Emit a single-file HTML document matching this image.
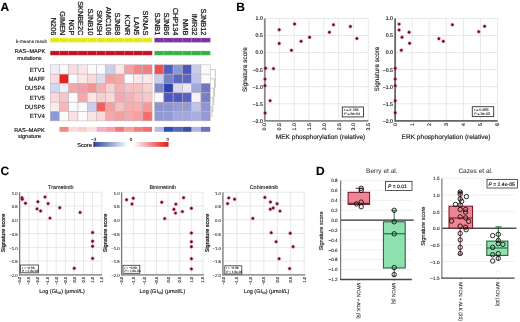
<!DOCTYPE html>
<html><head><meta charset="utf-8"><title>Figure</title>
<style>
html,body{margin:0;padding:0;background:#fff;}
body{width:520px;height:322px;overflow:hidden;}
svg{display:block;font-family:"Liberation Sans", Arial, sans-serif;text-rendering:geometricPrecision;}
text{stroke:#1a1a1a;stroke-width:0.15px;}
</style></head>
<body>
<svg width="520" height="322" viewBox="0 0 520 322">
<rect width="520" height="322" fill="#fff"/>
<text x="0.60" y="11.00" font-size="12" text-anchor="start" fill="#000" font-weight="bold">A</text>
<text x="236.20" y="11.20" font-size="12" text-anchor="start" fill="#000" font-weight="bold">B</text>
<text x="0.40" y="175.40" font-size="12" text-anchor="start" fill="#000" font-weight="bold">C</text>
<text x="316.00" y="175.30" font-size="12" text-anchor="start" fill="#000" font-weight="bold">D</text>
<rect x="50.20" y="64.80" width="9.27" height="9.35" fill="#eeeef8" stroke="#bcb2ba" stroke-width="0.5"/>
<rect x="50.20" y="74.15" width="9.27" height="9.35" fill="#f8dcdc" stroke="#bcb2ba" stroke-width="0.5"/>
<rect x="50.20" y="83.50" width="9.27" height="9.35" fill="#d0d8f0" stroke="#bcb2ba" stroke-width="0.5"/>
<rect x="50.20" y="92.85" width="9.27" height="9.35" fill="#f8d8d8" stroke="#bcb2ba" stroke-width="0.5"/>
<rect x="50.20" y="102.20" width="9.27" height="9.35" fill="#fbeaea" stroke="#bcb2ba" stroke-width="0.5"/>
<rect x="50.20" y="111.55" width="9.27" height="9.35" fill="#8c98d8" stroke="#bcb2ba" stroke-width="0.5"/>
<rect x="59.46" y="64.80" width="9.27" height="9.35" fill="#fafafa" stroke="#bcb2ba" stroke-width="0.5"/>
<rect x="59.46" y="74.15" width="9.27" height="9.35" fill="#e82020" stroke="#bcb2ba" stroke-width="0.5"/>
<rect x="59.46" y="83.50" width="9.27" height="9.35" fill="#f0eef8" stroke="#bcb2ba" stroke-width="0.5"/>
<rect x="59.46" y="92.85" width="9.27" height="9.35" fill="#f4c8c8" stroke="#bcb2ba" stroke-width="0.5"/>
<rect x="59.46" y="102.20" width="9.27" height="9.35" fill="#f4b8b8" stroke="#bcb2ba" stroke-width="0.5"/>
<rect x="59.46" y="111.55" width="9.27" height="9.35" fill="#fafafa" stroke="#bcb2ba" stroke-width="0.5"/>
<rect x="68.73" y="64.80" width="9.27" height="9.35" fill="#f8dede" stroke="#bcb2ba" stroke-width="0.5"/>
<rect x="68.73" y="74.15" width="9.27" height="9.35" fill="#fafafa" stroke="#bcb2ba" stroke-width="0.5"/>
<rect x="68.73" y="83.50" width="9.27" height="9.35" fill="#f0a8b0" stroke="#bcb2ba" stroke-width="0.5"/>
<rect x="68.73" y="92.85" width="9.27" height="9.35" fill="#fafafa" stroke="#bcb2ba" stroke-width="0.5"/>
<rect x="68.73" y="102.20" width="9.27" height="9.35" fill="#fafafa" stroke="#bcb2ba" stroke-width="0.5"/>
<rect x="68.73" y="111.55" width="9.27" height="9.35" fill="#fae0e0" stroke="#bcb2ba" stroke-width="0.5"/>
<rect x="77.99" y="64.80" width="9.27" height="9.35" fill="#fbe5e5" stroke="#bcb2ba" stroke-width="0.5"/>
<rect x="77.99" y="74.15" width="9.27" height="9.35" fill="#fbe8e8" stroke="#bcb2ba" stroke-width="0.5"/>
<rect x="77.99" y="83.50" width="9.27" height="9.35" fill="#f0a0a8" stroke="#bcb2ba" stroke-width="0.5"/>
<rect x="77.99" y="92.85" width="9.27" height="9.35" fill="#f4a8a8" stroke="#bcb2ba" stroke-width="0.5"/>
<rect x="77.99" y="102.20" width="9.27" height="9.35" fill="#fafafa" stroke="#bcb2ba" stroke-width="0.5"/>
<rect x="77.99" y="111.55" width="9.27" height="9.35" fill="#fafafa" stroke="#bcb2ba" stroke-width="0.5"/>
<rect x="87.25" y="64.80" width="9.27" height="9.35" fill="#fafafa" stroke="#bcb2ba" stroke-width="0.5"/>
<rect x="87.25" y="74.15" width="9.27" height="9.35" fill="#f8d8d8" stroke="#bcb2ba" stroke-width="0.5"/>
<rect x="87.25" y="83.50" width="9.27" height="9.35" fill="#f09494" stroke="#bcb2ba" stroke-width="0.5"/>
<rect x="87.25" y="92.85" width="9.27" height="9.35" fill="#fde6e6" stroke="#bcb2ba" stroke-width="0.5"/>
<rect x="87.25" y="102.20" width="9.27" height="9.35" fill="#c8cef0" stroke="#bcb2ba" stroke-width="0.5"/>
<rect x="87.25" y="111.55" width="9.27" height="9.35" fill="#fbe6e6" stroke="#bcb2ba" stroke-width="0.5"/>
<rect x="96.52" y="64.80" width="9.27" height="9.35" fill="#fafafa" stroke="#bcb2ba" stroke-width="0.5"/>
<rect x="96.52" y="74.15" width="9.27" height="9.35" fill="#dcdcf0" stroke="#bcb2ba" stroke-width="0.5"/>
<rect x="96.52" y="83.50" width="9.27" height="9.35" fill="#f4b0b0" stroke="#bcb2ba" stroke-width="0.5"/>
<rect x="96.52" y="92.85" width="9.27" height="9.35" fill="#f8d0d0" stroke="#bcb2ba" stroke-width="0.5"/>
<rect x="96.52" y="102.20" width="9.27" height="9.35" fill="#f06060" stroke="#bcb2ba" stroke-width="0.5"/>
<rect x="96.52" y="111.55" width="9.27" height="9.35" fill="#f8dcdc" stroke="#bcb2ba" stroke-width="0.5"/>
<rect x="105.78" y="64.80" width="9.27" height="9.35" fill="#c8d0ec" stroke="#bcb2ba" stroke-width="0.5"/>
<rect x="105.78" y="74.15" width="9.27" height="9.35" fill="#f4a0a0" stroke="#bcb2ba" stroke-width="0.5"/>
<rect x="105.78" y="83.50" width="9.27" height="9.35" fill="#f8d0d0" stroke="#bcb2ba" stroke-width="0.5"/>
<rect x="105.78" y="92.85" width="9.27" height="9.35" fill="#fad8d8" stroke="#bcb2ba" stroke-width="0.5"/>
<rect x="105.78" y="102.20" width="9.27" height="9.35" fill="#f4a0a0" stroke="#bcb2ba" stroke-width="0.5"/>
<rect x="105.78" y="111.55" width="9.27" height="9.35" fill="#f4a8a8" stroke="#bcb2ba" stroke-width="0.5"/>
<rect x="115.05" y="64.80" width="9.27" height="9.35" fill="#fae8e8" stroke="#bcb2ba" stroke-width="0.5"/>
<rect x="115.05" y="74.15" width="9.27" height="9.35" fill="#f4a8a8" stroke="#bcb2ba" stroke-width="0.5"/>
<rect x="115.05" y="83.50" width="9.27" height="9.35" fill="#f4b0b8" stroke="#bcb2ba" stroke-width="0.5"/>
<rect x="115.05" y="92.85" width="9.27" height="9.35" fill="#f4a8b0" stroke="#bcb2ba" stroke-width="0.5"/>
<rect x="115.05" y="102.20" width="9.27" height="9.35" fill="#f8c0c0" stroke="#bcb2ba" stroke-width="0.5"/>
<rect x="115.05" y="111.55" width="9.27" height="9.35" fill="#f4a0a0" stroke="#bcb2ba" stroke-width="0.5"/>
<rect x="124.31" y="64.80" width="9.27" height="9.35" fill="#f4a0a0" stroke="#bcb2ba" stroke-width="0.5"/>
<rect x="124.31" y="74.15" width="9.27" height="9.35" fill="#fafafa" stroke="#bcb2ba" stroke-width="0.5"/>
<rect x="124.31" y="83.50" width="9.27" height="9.35" fill="#f8c0c4" stroke="#bcb2ba" stroke-width="0.5"/>
<rect x="124.31" y="92.85" width="9.27" height="9.35" fill="#f4b4b4" stroke="#bcb2ba" stroke-width="0.5"/>
<rect x="124.31" y="102.20" width="9.27" height="9.35" fill="#f4b0b0" stroke="#bcb2ba" stroke-width="0.5"/>
<rect x="124.31" y="111.55" width="9.27" height="9.35" fill="#f4a8b0" stroke="#bcb2ba" stroke-width="0.5"/>
<rect x="133.57" y="64.80" width="9.27" height="9.35" fill="#f08888" stroke="#bcb2ba" stroke-width="0.5"/>
<rect x="133.57" y="74.15" width="9.27" height="9.35" fill="#fbeaea" stroke="#bcb2ba" stroke-width="0.5"/>
<rect x="133.57" y="83.50" width="9.27" height="9.35" fill="#f8c0c0" stroke="#bcb2ba" stroke-width="0.5"/>
<rect x="133.57" y="92.85" width="9.27" height="9.35" fill="#f8c0c0" stroke="#bcb2ba" stroke-width="0.5"/>
<rect x="133.57" y="102.20" width="9.27" height="9.35" fill="#f8b0b0" stroke="#bcb2ba" stroke-width="0.5"/>
<rect x="133.57" y="111.55" width="9.27" height="9.35" fill="#f8a0a0" stroke="#bcb2ba" stroke-width="0.5"/>
<rect x="142.84" y="64.80" width="9.27" height="9.35" fill="#f08080" stroke="#bcb2ba" stroke-width="0.5"/>
<rect x="142.84" y="74.15" width="9.27" height="9.35" fill="#fbe8e8" stroke="#bcb2ba" stroke-width="0.5"/>
<rect x="142.84" y="83.50" width="9.27" height="9.35" fill="#fad0d0" stroke="#bcb2ba" stroke-width="0.5"/>
<rect x="142.84" y="92.85" width="9.27" height="9.35" fill="#f8c8c8" stroke="#bcb2ba" stroke-width="0.5"/>
<rect x="142.84" y="102.20" width="9.27" height="9.35" fill="#f49898" stroke="#bcb2ba" stroke-width="0.5"/>
<rect x="142.84" y="111.55" width="9.27" height="9.35" fill="#f47070" stroke="#bcb2ba" stroke-width="0.5"/>
<rect x="154.60" y="64.80" width="9.27" height="9.35" fill="#f05050" stroke="#bcb2ba" stroke-width="0.5"/>
<rect x="154.60" y="74.15" width="9.27" height="9.35" fill="#c8d0ec" stroke="#bcb2ba" stroke-width="0.5"/>
<rect x="154.60" y="83.50" width="9.27" height="9.35" fill="#8088c8" stroke="#bcb2ba" stroke-width="0.5"/>
<rect x="154.60" y="92.85" width="9.27" height="9.35" fill="#fafafa" stroke="#bcb2ba" stroke-width="0.5"/>
<rect x="154.60" y="102.20" width="9.27" height="9.35" fill="#8e96d2" stroke="#bcb2ba" stroke-width="0.5"/>
<rect x="154.60" y="111.55" width="9.27" height="9.35" fill="#939bd4" stroke="#bcb2ba" stroke-width="0.5"/>
<rect x="163.87" y="64.80" width="9.27" height="9.35" fill="#5060c0" stroke="#bcb2ba" stroke-width="0.5"/>
<rect x="163.87" y="74.15" width="9.27" height="9.35" fill="#7880c8" stroke="#bcb2ba" stroke-width="0.5"/>
<rect x="163.87" y="83.50" width="9.27" height="9.35" fill="#2c42b0" stroke="#bcb2ba" stroke-width="0.5"/>
<rect x="163.87" y="92.85" width="9.27" height="9.35" fill="#5058c0" stroke="#bcb2ba" stroke-width="0.5"/>
<rect x="163.87" y="102.20" width="9.27" height="9.35" fill="#8e96d2" stroke="#bcb2ba" stroke-width="0.5"/>
<rect x="163.87" y="111.55" width="9.27" height="9.35" fill="#939bd4" stroke="#bcb2ba" stroke-width="0.5"/>
<rect x="173.14" y="64.80" width="9.27" height="9.35" fill="#8898d0" stroke="#bcb2ba" stroke-width="0.5"/>
<rect x="173.14" y="74.15" width="9.27" height="9.35" fill="#5c68c0" stroke="#bcb2ba" stroke-width="0.5"/>
<rect x="173.14" y="83.50" width="9.27" height="9.35" fill="#dcd8ee" stroke="#bcb2ba" stroke-width="0.5"/>
<rect x="173.14" y="92.85" width="9.27" height="9.35" fill="#5058c0" stroke="#bcb2ba" stroke-width="0.5"/>
<rect x="173.14" y="102.20" width="9.27" height="9.35" fill="#949cd4" stroke="#bcb2ba" stroke-width="0.5"/>
<rect x="173.14" y="111.55" width="9.27" height="9.35" fill="#a0a8dc" stroke="#bcb2ba" stroke-width="0.5"/>
<rect x="182.41" y="64.80" width="9.27" height="9.35" fill="#4c56b8" stroke="#bcb2ba" stroke-width="0.5"/>
<rect x="182.41" y="74.15" width="9.27" height="9.35" fill="#5c68c0" stroke="#bcb2ba" stroke-width="0.5"/>
<rect x="182.41" y="83.50" width="9.27" height="9.35" fill="#e8e8f6" stroke="#bcb2ba" stroke-width="0.5"/>
<rect x="182.41" y="92.85" width="9.27" height="9.35" fill="#5860c0" stroke="#bcb2ba" stroke-width="0.5"/>
<rect x="182.41" y="102.20" width="9.27" height="9.35" fill="#949cd4" stroke="#bcb2ba" stroke-width="0.5"/>
<rect x="182.41" y="111.55" width="9.27" height="9.35" fill="#a0a8dc" stroke="#bcb2ba" stroke-width="0.5"/>
<rect x="191.68" y="64.80" width="9.27" height="9.35" fill="#c8ccec" stroke="#bcb2ba" stroke-width="0.5"/>
<rect x="191.68" y="74.15" width="9.27" height="9.35" fill="#c0c4ea" stroke="#bcb2ba" stroke-width="0.5"/>
<rect x="191.68" y="83.50" width="9.27" height="9.35" fill="#a0a8dc" stroke="#bcb2ba" stroke-width="0.5"/>
<rect x="191.68" y="92.85" width="9.27" height="9.35" fill="#f4f4f8" stroke="#bcb2ba" stroke-width="0.5"/>
<rect x="191.68" y="102.20" width="9.27" height="9.35" fill="#c0c4ea" stroke="#bcb2ba" stroke-width="0.5"/>
<rect x="191.68" y="111.55" width="9.27" height="9.35" fill="#a8b0e0" stroke="#bcb2ba" stroke-width="0.5"/>
<rect x="200.95" y="64.80" width="9.27" height="9.35" fill="#fafafa" stroke="#bcb2ba" stroke-width="0.5"/>
<rect x="200.95" y="74.15" width="9.27" height="9.35" fill="#fafafa" stroke="#bcb2ba" stroke-width="0.5"/>
<rect x="200.95" y="83.50" width="9.27" height="9.35" fill="#7078c4" stroke="#bcb2ba" stroke-width="0.5"/>
<rect x="200.95" y="92.85" width="9.27" height="9.35" fill="#7880c8" stroke="#bcb2ba" stroke-width="0.5"/>
<rect x="200.95" y="102.20" width="9.27" height="9.35" fill="#8e96d2" stroke="#bcb2ba" stroke-width="0.5"/>
<rect x="200.95" y="111.55" width="9.27" height="9.35" fill="#939bd4" stroke="#bcb2ba" stroke-width="0.5"/>
<rect x="50.20" y="38.00" width="9.27" height="4.20" fill="#e8e810" stroke="#f4f4a0" stroke-width="0.35"/>
<rect x="50.20" y="51.00" width="9.27" height="4.10" fill="#c41022" stroke="#e07080" stroke-width="0.35"/>
<rect x="59.46" y="38.00" width="9.27" height="4.20" fill="#e8e810" stroke="#f4f4a0" stroke-width="0.35"/>
<rect x="59.46" y="51.00" width="9.27" height="4.10" fill="#c41022" stroke="#e07080" stroke-width="0.35"/>
<rect x="68.73" y="38.00" width="9.27" height="4.20" fill="#e8e810" stroke="#f4f4a0" stroke-width="0.35"/>
<rect x="68.73" y="51.00" width="9.27" height="4.10" fill="#c41022" stroke="#e07080" stroke-width="0.35"/>
<rect x="77.99" y="38.00" width="9.27" height="4.20" fill="#e8e810" stroke="#f4f4a0" stroke-width="0.35"/>
<rect x="77.99" y="51.00" width="9.27" height="4.10" fill="#c41022" stroke="#e07080" stroke-width="0.35"/>
<rect x="87.25" y="38.00" width="9.27" height="4.20" fill="#e8e810" stroke="#f4f4a0" stroke-width="0.35"/>
<rect x="87.25" y="51.00" width="9.27" height="4.10" fill="#c41022" stroke="#e07080" stroke-width="0.35"/>
<rect x="96.52" y="38.00" width="9.27" height="4.20" fill="#e8e810" stroke="#f4f4a0" stroke-width="0.35"/>
<rect x="96.52" y="51.00" width="9.27" height="4.10" fill="#c41022" stroke="#e07080" stroke-width="0.35"/>
<rect x="105.78" y="38.00" width="9.27" height="4.20" fill="#e8e810" stroke="#f4f4a0" stroke-width="0.35"/>
<rect x="105.78" y="51.00" width="9.27" height="4.10" fill="#c41022" stroke="#e07080" stroke-width="0.35"/>
<rect x="115.05" y="38.00" width="9.27" height="4.20" fill="#e8e810" stroke="#f4f4a0" stroke-width="0.35"/>
<rect x="115.05" y="51.00" width="9.27" height="4.10" fill="#c41022" stroke="#e07080" stroke-width="0.35"/>
<rect x="124.31" y="38.00" width="9.27" height="4.20" fill="#e8e810" stroke="#f4f4a0" stroke-width="0.35"/>
<rect x="124.31" y="51.00" width="9.27" height="4.10" fill="#c41022" stroke="#e07080" stroke-width="0.35"/>
<rect x="133.57" y="38.00" width="9.27" height="4.20" fill="#e8e810" stroke="#f4f4a0" stroke-width="0.35"/>
<rect x="133.57" y="51.00" width="9.27" height="4.10" fill="#c41022" stroke="#e07080" stroke-width="0.35"/>
<rect x="142.84" y="38.00" width="9.27" height="4.20" fill="#e8e810" stroke="#f4f4a0" stroke-width="0.35"/>
<rect x="142.84" y="51.00" width="9.27" height="4.10" fill="#c41022" stroke="#e07080" stroke-width="0.35"/>
<rect x="154.60" y="38.00" width="9.27" height="4.20" fill="#7a35a2" stroke="#a070c0" stroke-width="0.35"/>
<rect x="154.60" y="51.00" width="9.27" height="4.10" fill="#34b244" stroke="#80d090" stroke-width="0.35"/>
<rect x="163.87" y="38.00" width="9.27" height="4.20" fill="#7a35a2" stroke="#a070c0" stroke-width="0.35"/>
<rect x="163.87" y="51.00" width="9.27" height="4.10" fill="#34b244" stroke="#80d090" stroke-width="0.35"/>
<rect x="173.14" y="38.00" width="9.27" height="4.20" fill="#7a35a2" stroke="#a070c0" stroke-width="0.35"/>
<rect x="173.14" y="51.00" width="9.27" height="4.10" fill="#34b244" stroke="#80d090" stroke-width="0.35"/>
<rect x="182.41" y="38.00" width="9.27" height="4.20" fill="#7a35a2" stroke="#a070c0" stroke-width="0.35"/>
<rect x="182.41" y="51.00" width="9.27" height="4.10" fill="#34b244" stroke="#80d090" stroke-width="0.35"/>
<rect x="191.68" y="38.00" width="9.27" height="4.20" fill="#7a35a2" stroke="#a070c0" stroke-width="0.35"/>
<rect x="191.68" y="51.00" width="9.27" height="4.10" fill="#34b244" stroke="#80d090" stroke-width="0.35"/>
<rect x="200.95" y="38.00" width="9.27" height="4.20" fill="#7a35a2" stroke="#a070c0" stroke-width="0.35"/>
<rect x="200.95" y="51.00" width="9.27" height="4.10" fill="#34b244" stroke="#80d090" stroke-width="0.35"/>
<rect x="59.46" y="126.90" width="9.27" height="4.90" fill="#f08888" stroke="none" stroke-width="0"/>
<rect x="68.73" y="126.90" width="9.27" height="4.90" fill="#fadada" stroke="none" stroke-width="0"/>
<rect x="77.99" y="126.90" width="9.27" height="4.90" fill="#f8d0d0" stroke="none" stroke-width="0"/>
<rect x="87.25" y="126.90" width="9.27" height="4.90" fill="#fce0e0" stroke="none" stroke-width="0"/>
<rect x="96.52" y="126.90" width="9.27" height="4.90" fill="#f4b0c0" stroke="none" stroke-width="0"/>
<rect x="105.78" y="126.90" width="9.27" height="4.90" fill="#f4a0a8" stroke="none" stroke-width="0"/>
<rect x="115.05" y="126.90" width="9.27" height="4.90" fill="#f07878" stroke="none" stroke-width="0"/>
<rect x="124.31" y="126.90" width="9.27" height="4.90" fill="#f4a0a0" stroke="none" stroke-width="0"/>
<rect x="133.57" y="126.90" width="9.27" height="4.90" fill="#f08080" stroke="none" stroke-width="0"/>
<rect x="142.84" y="126.90" width="9.27" height="4.90" fill="#f07070" stroke="none" stroke-width="0"/>
<rect x="154.60" y="126.90" width="9.27" height="4.90" fill="#b8b8e0" stroke="none" stroke-width="0"/>
<rect x="163.87" y="126.90" width="9.27" height="4.90" fill="#3050b0" stroke="none" stroke-width="0"/>
<rect x="173.14" y="126.90" width="9.27" height="4.90" fill="#5868b8" stroke="none" stroke-width="0"/>
<rect x="182.41" y="126.90" width="9.27" height="4.90" fill="#3850a8" stroke="none" stroke-width="0"/>
<rect x="191.68" y="126.90" width="9.27" height="4.90" fill="#b0b4e0" stroke="none" stroke-width="0"/>
<rect x="200.95" y="126.90" width="9.27" height="4.90" fill="#7070b8" stroke="none" stroke-width="0"/>
<text x="50.51" y="35.30" font-size="7.3" text-anchor="end" fill="#111" transform="rotate(90 50.51 35.30)" style="stroke-width:0.24px">N206</text>
<text x="59.77" y="35.30" font-size="7.3" text-anchor="end" fill="#111" transform="rotate(90 59.77 35.30)" style="stroke-width:0.24px">GIMEN</text>
<text x="69.03" y="35.30" font-size="7.3" text-anchor="end" fill="#111" transform="rotate(90 69.03 35.30)" style="stroke-width:0.24px">NGP</text>
<text x="78.30" y="35.30" font-size="7.3" text-anchor="end" fill="#111" transform="rotate(90 78.30 35.30)" style="stroke-width:0.24px">SKNBE2C</text>
<text x="87.56" y="35.30" font-size="7.3" text-anchor="end" fill="#111" transform="rotate(90 87.56 35.30)" style="stroke-width:0.24px">SJNB10</text>
<text x="96.83" y="35.30" font-size="7.3" text-anchor="end" fill="#111" transform="rotate(90 96.83 35.30)" style="stroke-width:0.24px">SKNSH</text>
<text x="106.09" y="35.30" font-size="7.3" text-anchor="end" fill="#111" transform="rotate(90 106.09 35.30)" style="stroke-width:0.24px">AMC106</text>
<text x="115.35" y="35.30" font-size="7.3" text-anchor="end" fill="#111" transform="rotate(90 115.35 35.30)" style="stroke-width:0.24px">SJNB8</text>
<text x="124.62" y="35.30" font-size="7.3" text-anchor="end" fill="#111" transform="rotate(90 124.62 35.30)" style="stroke-width:0.24px">KCNR</text>
<text x="133.88" y="35.30" font-size="7.3" text-anchor="end" fill="#111" transform="rotate(90 133.88 35.30)" style="stroke-width:0.24px">LAN5</text>
<text x="143.14" y="35.30" font-size="7.3" text-anchor="end" fill="#111" transform="rotate(90 143.14 35.30)" style="stroke-width:0.24px">SKNAS</text>
<text x="154.91" y="35.30" font-size="7.3" text-anchor="end" fill="#111" transform="rotate(90 154.91 35.30)" style="stroke-width:0.24px">SJNB1</text>
<text x="164.18" y="35.30" font-size="7.3" text-anchor="end" fill="#111" transform="rotate(90 164.18 35.30)" style="stroke-width:0.24px">SJNB6</text>
<text x="173.45" y="35.30" font-size="7.3" text-anchor="end" fill="#111" transform="rotate(90 173.45 35.30)" style="stroke-width:0.24px">CHP134</text>
<text x="182.72" y="35.30" font-size="7.3" text-anchor="end" fill="#111" transform="rotate(90 182.72 35.30)" style="stroke-width:0.24px">NMB</text>
<text x="191.99" y="35.30" font-size="7.3" text-anchor="end" fill="#111" transform="rotate(90 191.99 35.30)" style="stroke-width:0.24px">IMR32</text>
<text x="201.26" y="35.30" font-size="7.3" text-anchor="end" fill="#111" transform="rotate(90 201.26 35.30)" style="stroke-width:0.24px">SJNB12</text>
<text x="44.80" y="71.57" font-size="6.0" text-anchor="end" fill="#111">ETV1</text>
<text x="44.80" y="80.92" font-size="6.0" text-anchor="end" fill="#111">MAFF</text>
<text x="44.80" y="90.27" font-size="6.0" text-anchor="end" fill="#111">DUSP4</text>
<text x="44.80" y="99.62" font-size="6.0" text-anchor="end" fill="#111">ETV5</text>
<text x="44.80" y="108.97" font-size="6.0" text-anchor="end" fill="#111">DUSP6</text>
<text x="44.80" y="118.32" font-size="6.0" text-anchor="end" fill="#111">ETV4</text>
<text x="31.40" y="42.80" font-size="4.7" text-anchor="middle" fill="#111" style="stroke-width:0.08px">k-means result</text>
<text x="30.00" y="53.10" font-size="5.6" text-anchor="middle" fill="#111">RAS–MAPK</text>
<text x="29.50" y="60.00" font-size="5.6" text-anchor="middle" fill="#111">mutations</text>
<text x="29.40" y="131.50" font-size="5.6" text-anchor="middle" fill="#111">RAS–MAPK</text>
<text x="29.40" y="137.60" font-size="5.6" text-anchor="middle" fill="#111">signature</text>
<line x1="210.50" y1="116.22" x2="212.00" y2="116.22" stroke="#a8a8a8" stroke-width="0.6"/>
<line x1="210.50" y1="106.87" x2="212.00" y2="106.87" stroke="#a8a8a8" stroke-width="0.6"/>
<line x1="212.00" y1="106.87" x2="212.00" y2="116.22" stroke="#a8a8a8" stroke-width="0.6"/>
<line x1="210.50" y1="97.52" x2="212.80" y2="97.52" stroke="#a8a8a8" stroke-width="0.6"/>
<line x1="212.00" y1="111.55" x2="212.80" y2="111.55" stroke="#a8a8a8" stroke-width="0.6"/>
<line x1="212.80" y1="97.52" x2="212.80" y2="111.55" stroke="#a8a8a8" stroke-width="0.6"/>
<line x1="210.50" y1="88.17" x2="213.70" y2="88.17" stroke="#a8a8a8" stroke-width="0.6"/>
<line x1="212.80" y1="104.54" x2="213.70" y2="104.54" stroke="#a8a8a8" stroke-width="0.6"/>
<line x1="213.70" y1="88.17" x2="213.70" y2="104.54" stroke="#a8a8a8" stroke-width="0.6"/>
<line x1="210.50" y1="78.82" x2="214.50" y2="78.82" stroke="#a8a8a8" stroke-width="0.6"/>
<line x1="213.70" y1="96.36" x2="214.50" y2="96.36" stroke="#a8a8a8" stroke-width="0.6"/>
<line x1="214.50" y1="78.82" x2="214.50" y2="96.36" stroke="#a8a8a8" stroke-width="0.6"/>
<line x1="210.50" y1="69.47" x2="215.40" y2="69.47" stroke="#a8a8a8" stroke-width="0.6"/>
<line x1="214.50" y1="87.59" x2="215.40" y2="87.59" stroke="#a8a8a8" stroke-width="0.6"/>
<line x1="215.40" y1="69.47" x2="215.40" y2="87.59" stroke="#a8a8a8" stroke-width="0.6"/>
<defs><linearGradient id="sg" x1="0" x2="1" y1="0" y2="0"><stop offset="0" stop-color="#2a4aa0"/><stop offset="0.46" stop-color="#ffffff"/><stop offset="0.53" stop-color="#ffffff"/><stop offset="1" stop-color="#e01818"/></linearGradient></defs>
<rect x="93.50" y="142.00" width="75.00" height="4.80" fill="url(#sg)" stroke="none" stroke-width="0"/>
<line x1="94.00" y1="141.50" x2="94.00" y2="147.00" stroke="#222" stroke-width="0.6"/>
<text x="91.80" y="147.00" font-size="5.6" text-anchor="end" fill="#111">Score</text>
<text x="93.60" y="141.00" font-size="4.6" text-anchor="middle" fill="#111" style="stroke-width:0.08px">−3</text>
<text x="131.00" y="141.00" font-size="4.6" text-anchor="middle" fill="#111" style="stroke-width:0.08px">0</text>
<text x="167.50" y="141.00" font-size="4.6" text-anchor="middle" fill="#111" style="stroke-width:0.08px">3</text>
<line x1="264.50" y1="18.40" x2="264.50" y2="120.85" stroke="#d8d8d8" stroke-width="0.6"/>
<line x1="279.33" y1="18.40" x2="279.33" y2="120.85" stroke="#d8d8d8" stroke-width="0.6"/>
<line x1="294.16" y1="18.40" x2="294.16" y2="120.85" stroke="#d8d8d8" stroke-width="0.6"/>
<line x1="308.99" y1="18.40" x2="308.99" y2="120.85" stroke="#d8d8d8" stroke-width="0.6"/>
<line x1="323.82" y1="18.40" x2="323.82" y2="120.85" stroke="#d8d8d8" stroke-width="0.6"/>
<line x1="338.65" y1="18.40" x2="338.65" y2="120.85" stroke="#d8d8d8" stroke-width="0.6"/>
<line x1="353.48" y1="18.40" x2="353.48" y2="120.85" stroke="#d8d8d8" stroke-width="0.6"/>
<line x1="368.31" y1="18.40" x2="368.31" y2="120.85" stroke="#d8d8d8" stroke-width="0.6"/>
<line x1="264.80" y1="18.40" x2="368.30" y2="18.40" stroke="#d8d8d8" stroke-width="0.6"/>
<line x1="264.80" y1="35.47" x2="368.30" y2="35.47" stroke="#d8d8d8" stroke-width="0.6"/>
<line x1="264.80" y1="52.55" x2="368.30" y2="52.55" stroke="#d8d8d8" stroke-width="0.6"/>
<line x1="264.80" y1="69.62" x2="368.30" y2="69.62" stroke="#d8d8d8" stroke-width="0.6"/>
<line x1="264.80" y1="86.70" x2="368.30" y2="86.70" stroke="#d8d8d8" stroke-width="0.6"/>
<line x1="264.80" y1="103.77" x2="368.30" y2="103.77" stroke="#d8d8d8" stroke-width="0.6"/>
<line x1="264.80" y1="120.85" x2="368.30" y2="120.85" stroke="#d8d8d8" stroke-width="0.6"/>
<line x1="264.80" y1="18.40" x2="264.80" y2="121.45" stroke="#8a8a8a" stroke-width="1.8"/>
<line x1="264.20" y1="120.85" x2="368.30" y2="120.85" stroke="#8a8a8a" stroke-width="1.8"/>
<text x="262.80" y="20.30" font-size="5.2" text-anchor="end" fill="#222">1.0</text>
<text x="262.80" y="37.37" font-size="5.2" text-anchor="end" fill="#222">0.5</text>
<text x="262.80" y="54.45" font-size="5.2" text-anchor="end" fill="#222">0.0</text>
<text x="262.80" y="71.53" font-size="5.2" text-anchor="end" fill="#222">−0.5</text>
<text x="262.80" y="88.60" font-size="5.2" text-anchor="end" fill="#222">−1.0</text>
<text x="262.80" y="105.67" font-size="5.2" text-anchor="end" fill="#222">−1.5</text>
<text x="262.80" y="122.75" font-size="5.2" text-anchor="end" fill="#222">−2.0</text>
<text x="266.37" y="123.15" font-size="5.2" text-anchor="end" fill="#222" transform="rotate(-90 266.37 123.15)" style="stroke-width:0.14px">0.0</text>
<text x="281.20" y="123.15" font-size="5.2" text-anchor="end" fill="#222" transform="rotate(-90 281.20 123.15)" style="stroke-width:0.14px">0.5</text>
<text x="296.03" y="123.15" font-size="5.2" text-anchor="end" fill="#222" transform="rotate(-90 296.03 123.15)" style="stroke-width:0.14px">1.0</text>
<text x="310.86" y="123.15" font-size="5.2" text-anchor="end" fill="#222" transform="rotate(-90 310.86 123.15)" style="stroke-width:0.14px">1.5</text>
<text x="325.69" y="123.15" font-size="5.2" text-anchor="end" fill="#222" transform="rotate(-90 325.69 123.15)" style="stroke-width:0.14px">2.0</text>
<text x="340.52" y="123.15" font-size="5.2" text-anchor="end" fill="#222" transform="rotate(-90 340.52 123.15)" style="stroke-width:0.14px">2.5</text>
<text x="355.35" y="123.15" font-size="5.2" text-anchor="end" fill="#222" transform="rotate(-90 355.35 123.15)" style="stroke-width:0.14px">3.0</text>
<text x="370.18" y="123.15" font-size="5.2" text-anchor="end" fill="#222" transform="rotate(-90 370.18 123.15)" style="stroke-width:0.14px">3.5</text>
<circle cx="279.20" cy="29.80" r="2.5" fill="#e06080" fill-opacity="0.16"/>
<circle cx="279.20" cy="29.80" r="1.2" fill="#480818" stroke="#a41a36" stroke-width="0.6"/>
<circle cx="294.60" cy="24.00" r="2.5" fill="#e06080" fill-opacity="0.16"/>
<circle cx="294.60" cy="24.00" r="1.2" fill="#480818" stroke="#a41a36" stroke-width="0.6"/>
<circle cx="279.20" cy="43.50" r="2.5" fill="#e06080" fill-opacity="0.16"/>
<circle cx="279.20" cy="43.50" r="1.2" fill="#480818" stroke="#a41a36" stroke-width="0.6"/>
<circle cx="291.50" cy="50.30" r="2.5" fill="#e06080" fill-opacity="0.16"/>
<circle cx="291.50" cy="50.30" r="1.2" fill="#480818" stroke="#a41a36" stroke-width="0.6"/>
<circle cx="301.10" cy="41.30" r="2.5" fill="#e06080" fill-opacity="0.16"/>
<circle cx="301.10" cy="41.30" r="1.2" fill="#480818" stroke="#a41a36" stroke-width="0.6"/>
<circle cx="309.60" cy="37.30" r="2.5" fill="#e06080" fill-opacity="0.16"/>
<circle cx="309.60" cy="37.30" r="1.2" fill="#480818" stroke="#a41a36" stroke-width="0.6"/>
<circle cx="329.40" cy="32.20" r="2.5" fill="#e06080" fill-opacity="0.16"/>
<circle cx="329.40" cy="32.20" r="1.2" fill="#480818" stroke="#a41a36" stroke-width="0.6"/>
<circle cx="333.50" cy="24.80" r="2.5" fill="#e06080" fill-opacity="0.16"/>
<circle cx="333.50" cy="24.80" r="1.2" fill="#480818" stroke="#a41a36" stroke-width="0.6"/>
<circle cx="350.40" cy="26.50" r="2.5" fill="#e06080" fill-opacity="0.16"/>
<circle cx="350.40" cy="26.50" r="1.2" fill="#480818" stroke="#a41a36" stroke-width="0.6"/>
<circle cx="356.90" cy="38.50" r="2.5" fill="#e06080" fill-opacity="0.16"/>
<circle cx="356.90" cy="38.50" r="1.2" fill="#480818" stroke="#a41a36" stroke-width="0.6"/>
<circle cx="265.60" cy="68.20" r="2.5" fill="#e06080" fill-opacity="0.16"/>
<circle cx="265.60" cy="68.20" r="1.2" fill="#480818" stroke="#a41a36" stroke-width="0.6"/>
<circle cx="273.50" cy="68.60" r="2.5" fill="#e06080" fill-opacity="0.16"/>
<circle cx="273.50" cy="68.60" r="1.2" fill="#480818" stroke="#a41a36" stroke-width="0.6"/>
<circle cx="265.00" cy="79.10" r="2.5" fill="#e06080" fill-opacity="0.16"/>
<circle cx="265.00" cy="79.10" r="1.2" fill="#480818" stroke="#a41a36" stroke-width="0.6"/>
<circle cx="264.90" cy="85.70" r="2.5" fill="#e06080" fill-opacity="0.16"/>
<circle cx="264.90" cy="85.70" r="1.2" fill="#480818" stroke="#a41a36" stroke-width="0.6"/>
<circle cx="270.10" cy="100.70" r="2.5" fill="#e06080" fill-opacity="0.16"/>
<circle cx="270.10" cy="100.70" r="1.2" fill="#480818" stroke="#a41a36" stroke-width="0.6"/>
<circle cx="265.10" cy="113.00" r="2.5" fill="#e06080" fill-opacity="0.16"/>
<circle cx="265.10" cy="113.00" r="1.2" fill="#480818" stroke="#a41a36" stroke-width="0.6"/>
<rect x="342.30" y="107.00" width="21.20" height="9.90" fill="#fff" stroke="#333" stroke-width="0.9"/>
<text x="343.90" y="111.20" font-size="3.7" text-anchor="start" fill="#111" style="stroke-width:0.08px"><tspan font-style="italic">r</tspan> = 0.766</text>
<text x="343.90" y="115.30" font-size="3.7" text-anchor="start" fill="#111" style="stroke-width:0.08px"><tspan font-style="italic">P</tspan> = 5e-04</text>
<text x="320.50" y="139.40" font-size="6.55" text-anchor="middle" fill="#222">MEK phosphorylation (relative)</text>
<text x="246.60" y="69.50" font-size="6.4" text-anchor="middle" fill="#222" transform="rotate(-90 246.60 69.50)">Signature score</text>
<line x1="395.00" y1="18.40" x2="395.00" y2="120.85" stroke="#d8d8d8" stroke-width="0.6"/>
<line x1="412.10" y1="18.40" x2="412.10" y2="120.85" stroke="#d8d8d8" stroke-width="0.6"/>
<line x1="429.20" y1="18.40" x2="429.20" y2="120.85" stroke="#d8d8d8" stroke-width="0.6"/>
<line x1="446.30" y1="18.40" x2="446.30" y2="120.85" stroke="#d8d8d8" stroke-width="0.6"/>
<line x1="463.40" y1="18.40" x2="463.40" y2="120.85" stroke="#d8d8d8" stroke-width="0.6"/>
<line x1="480.50" y1="18.40" x2="480.50" y2="120.85" stroke="#d8d8d8" stroke-width="0.6"/>
<line x1="497.60" y1="18.40" x2="497.60" y2="120.85" stroke="#d8d8d8" stroke-width="0.6"/>
<line x1="395.15" y1="18.40" x2="497.60" y2="18.40" stroke="#d8d8d8" stroke-width="0.6"/>
<line x1="395.15" y1="35.47" x2="497.60" y2="35.47" stroke="#d8d8d8" stroke-width="0.6"/>
<line x1="395.15" y1="52.55" x2="497.60" y2="52.55" stroke="#d8d8d8" stroke-width="0.6"/>
<line x1="395.15" y1="69.62" x2="497.60" y2="69.62" stroke="#d8d8d8" stroke-width="0.6"/>
<line x1="395.15" y1="86.70" x2="497.60" y2="86.70" stroke="#d8d8d8" stroke-width="0.6"/>
<line x1="395.15" y1="103.77" x2="497.60" y2="103.77" stroke="#d8d8d8" stroke-width="0.6"/>
<line x1="395.15" y1="120.85" x2="497.60" y2="120.85" stroke="#d8d8d8" stroke-width="0.6"/>
<line x1="395.15" y1="18.40" x2="395.15" y2="121.45" stroke="#666" stroke-width="1.8"/>
<line x1="394.55" y1="120.85" x2="497.60" y2="120.85" stroke="#666" stroke-width="1.8"/>
<text x="392.95" y="20.30" font-size="5.2" text-anchor="end" fill="#222">1.0</text>
<text x="392.95" y="37.37" font-size="5.2" text-anchor="end" fill="#222">0.5</text>
<text x="392.95" y="54.45" font-size="5.2" text-anchor="end" fill="#222">0.0</text>
<text x="392.95" y="71.53" font-size="5.2" text-anchor="end" fill="#222">−0.5</text>
<text x="392.95" y="88.60" font-size="5.2" text-anchor="end" fill="#222">−1.0</text>
<text x="392.95" y="105.67" font-size="5.2" text-anchor="end" fill="#222">−1.5</text>
<text x="392.95" y="122.75" font-size="5.2" text-anchor="end" fill="#222">−2.0</text>
<text x="396.87" y="123.15" font-size="5.2" text-anchor="end" fill="#222" transform="rotate(-90 396.87 123.15)" style="stroke-width:0.14px">0</text>
<text x="413.97" y="123.15" font-size="5.2" text-anchor="end" fill="#222" transform="rotate(-90 413.97 123.15)" style="stroke-width:0.14px">1</text>
<text x="431.07" y="123.15" font-size="5.2" text-anchor="end" fill="#222" transform="rotate(-90 431.07 123.15)" style="stroke-width:0.14px">2</text>
<text x="448.17" y="123.15" font-size="5.2" text-anchor="end" fill="#222" transform="rotate(-90 448.17 123.15)" style="stroke-width:0.14px">3</text>
<text x="465.27" y="123.15" font-size="5.2" text-anchor="end" fill="#222" transform="rotate(-90 465.27 123.15)" style="stroke-width:0.14px">4</text>
<text x="482.37" y="123.15" font-size="5.2" text-anchor="end" fill="#222" transform="rotate(-90 482.37 123.15)" style="stroke-width:0.14px">5</text>
<text x="499.47" y="123.15" font-size="5.2" text-anchor="end" fill="#222" transform="rotate(-90 499.47 123.15)" style="stroke-width:0.14px">6</text>
<circle cx="399.10" cy="24.10" r="2.5" fill="#e06080" fill-opacity="0.16"/>
<circle cx="399.10" cy="24.10" r="1.2" fill="#480818" stroke="#a41a36" stroke-width="0.6"/>
<circle cx="399.10" cy="30.00" r="2.5" fill="#e06080" fill-opacity="0.16"/>
<circle cx="399.10" cy="30.00" r="1.2" fill="#480818" stroke="#a41a36" stroke-width="0.6"/>
<circle cx="409.10" cy="32.20" r="2.5" fill="#e06080" fill-opacity="0.16"/>
<circle cx="409.10" cy="32.20" r="1.2" fill="#480818" stroke="#a41a36" stroke-width="0.6"/>
<circle cx="402.00" cy="37.20" r="2.5" fill="#e06080" fill-opacity="0.16"/>
<circle cx="402.00" cy="37.20" r="1.2" fill="#480818" stroke="#a41a36" stroke-width="0.6"/>
<circle cx="409.60" cy="43.30" r="2.5" fill="#e06080" fill-opacity="0.16"/>
<circle cx="409.60" cy="43.30" r="1.2" fill="#480818" stroke="#a41a36" stroke-width="0.6"/>
<circle cx="401.30" cy="50.20" r="2.5" fill="#e06080" fill-opacity="0.16"/>
<circle cx="401.30" cy="50.20" r="1.2" fill="#480818" stroke="#a41a36" stroke-width="0.6"/>
<circle cx="438.90" cy="38.70" r="2.5" fill="#e06080" fill-opacity="0.16"/>
<circle cx="438.90" cy="38.70" r="1.2" fill="#480818" stroke="#a41a36" stroke-width="0.6"/>
<circle cx="443.30" cy="41.30" r="2.5" fill="#e06080" fill-opacity="0.16"/>
<circle cx="443.30" cy="41.30" r="1.2" fill="#480818" stroke="#a41a36" stroke-width="0.6"/>
<circle cx="452.40" cy="24.80" r="2.5" fill="#e06080" fill-opacity="0.16"/>
<circle cx="452.40" cy="24.80" r="1.2" fill="#480818" stroke="#a41a36" stroke-width="0.6"/>
<circle cx="478.70" cy="31.70" r="2.5" fill="#e06080" fill-opacity="0.16"/>
<circle cx="478.70" cy="31.70" r="1.2" fill="#480818" stroke="#a41a36" stroke-width="0.6"/>
<circle cx="484.60" cy="26.30" r="2.5" fill="#e06080" fill-opacity="0.16"/>
<circle cx="484.60" cy="26.30" r="1.2" fill="#480818" stroke="#a41a36" stroke-width="0.6"/>
<circle cx="395.20" cy="68.30" r="2.5" fill="#e06080" fill-opacity="0.16"/>
<circle cx="395.20" cy="68.30" r="1.2" fill="#480818" stroke="#a41a36" stroke-width="0.6"/>
<circle cx="395.20" cy="79.10" r="2.5" fill="#e06080" fill-opacity="0.16"/>
<circle cx="395.20" cy="79.10" r="1.2" fill="#480818" stroke="#a41a36" stroke-width="0.6"/>
<circle cx="395.20" cy="85.70" r="2.5" fill="#e06080" fill-opacity="0.16"/>
<circle cx="395.20" cy="85.70" r="1.2" fill="#480818" stroke="#a41a36" stroke-width="0.6"/>
<circle cx="395.20" cy="100.70" r="2.5" fill="#e06080" fill-opacity="0.16"/>
<circle cx="395.20" cy="100.70" r="1.2" fill="#480818" stroke="#a41a36" stroke-width="0.6"/>
<circle cx="395.20" cy="112.80" r="2.5" fill="#e06080" fill-opacity="0.16"/>
<circle cx="395.20" cy="112.80" r="1.2" fill="#480818" stroke="#a41a36" stroke-width="0.6"/>
<rect x="472.30" y="106.70" width="21.40" height="9.90" fill="#fff" stroke="#333" stroke-width="0.9"/>
<text x="473.90" y="110.90" font-size="3.7" text-anchor="start" fill="#111" style="stroke-width:0.08px"><tspan font-style="italic">r</tspan> = 0.683</text>
<text x="473.90" y="115.00" font-size="3.7" text-anchor="start" fill="#111" style="stroke-width:0.08px"><tspan font-style="italic">P</tspan> = 3e-03</text>
<text x="446.00" y="139.40" font-size="6.55" text-anchor="middle" fill="#222">ERK phosphorylation (relative)</text>
<text x="378.80" y="69.00" font-size="6.4" text-anchor="middle" fill="#222" transform="rotate(-90 378.80 69.00)">Signature score</text>
<line x1="19.80" y1="192.25" x2="19.80" y2="274.90" stroke="#d8d8d8" stroke-width="0.6"/>
<line x1="28.90" y1="192.25" x2="28.90" y2="274.90" stroke="#d8d8d8" stroke-width="0.6"/>
<line x1="38.00" y1="192.25" x2="38.00" y2="274.90" stroke="#d8d8d8" stroke-width="0.6"/>
<line x1="47.10" y1="192.25" x2="47.10" y2="274.90" stroke="#d8d8d8" stroke-width="0.6"/>
<line x1="56.20" y1="192.25" x2="56.20" y2="274.90" stroke="#d8d8d8" stroke-width="0.6"/>
<line x1="65.30" y1="192.25" x2="65.30" y2="274.90" stroke="#d8d8d8" stroke-width="0.6"/>
<line x1="74.40" y1="192.25" x2="74.40" y2="274.90" stroke="#d8d8d8" stroke-width="0.6"/>
<line x1="83.50" y1="192.25" x2="83.50" y2="274.90" stroke="#d8d8d8" stroke-width="0.6"/>
<line x1="92.60" y1="192.25" x2="92.60" y2="274.90" stroke="#d8d8d8" stroke-width="0.6"/>
<line x1="101.70" y1="192.25" x2="101.70" y2="274.90" stroke="#d8d8d8" stroke-width="0.6"/>
<line x1="19.60" y1="192.25" x2="102.00" y2="192.25" stroke="#d8d8d8" stroke-width="0.6"/>
<line x1="19.60" y1="206.03" x2="102.00" y2="206.03" stroke="#d8d8d8" stroke-width="0.6"/>
<line x1="19.60" y1="219.80" x2="102.00" y2="219.80" stroke="#d8d8d8" stroke-width="0.6"/>
<line x1="19.60" y1="233.58" x2="102.00" y2="233.58" stroke="#d8d8d8" stroke-width="0.6"/>
<line x1="19.60" y1="247.35" x2="102.00" y2="247.35" stroke="#d8d8d8" stroke-width="0.6"/>
<line x1="19.60" y1="261.12" x2="102.00" y2="261.12" stroke="#d8d8d8" stroke-width="0.6"/>
<line x1="19.60" y1="274.90" x2="102.00" y2="274.90" stroke="#d8d8d8" stroke-width="0.6"/>
<line x1="19.60" y1="192.25" x2="19.60" y2="275.50" stroke="#7a7a7a" stroke-width="1.3"/>
<line x1="19.00" y1="274.90" x2="102.00" y2="274.90" stroke="#7a7a7a" stroke-width="1.3"/>
<text x="17.70" y="194.55" font-size="4.3" text-anchor="end" fill="#222" style="stroke-width:0.08px">1.0</text>
<text x="17.70" y="208.33" font-size="4.3" text-anchor="end" fill="#222" style="stroke-width:0.08px">0.5</text>
<text x="17.70" y="222.10" font-size="4.3" text-anchor="end" fill="#222" style="stroke-width:0.08px">0.0</text>
<text x="17.70" y="235.88" font-size="4.3" text-anchor="end" fill="#222" style="stroke-width:0.08px">−0.5</text>
<text x="17.70" y="249.65" font-size="4.3" text-anchor="end" fill="#222" style="stroke-width:0.08px">−1.0</text>
<text x="17.70" y="263.43" font-size="4.3" text-anchor="end" fill="#222" style="stroke-width:0.08px">−1.5</text>
<text x="17.70" y="277.20" font-size="4.3" text-anchor="end" fill="#222" style="stroke-width:0.08px">−2.0</text>
<text x="21.24" y="276.90" font-size="4.0" text-anchor="end" fill="#222" transform="rotate(-90 21.24 276.90)" style="stroke-width:0.14px">−3.0</text>
<text x="30.34" y="276.90" font-size="4.0" text-anchor="end" fill="#222" transform="rotate(-90 30.34 276.90)" style="stroke-width:0.14px">−2.5</text>
<text x="39.44" y="276.90" font-size="4.0" text-anchor="end" fill="#222" transform="rotate(-90 39.44 276.90)" style="stroke-width:0.14px">−2.0</text>
<text x="48.54" y="276.90" font-size="4.0" text-anchor="end" fill="#222" transform="rotate(-90 48.54 276.90)" style="stroke-width:0.14px">−1.5</text>
<text x="57.64" y="276.90" font-size="4.0" text-anchor="end" fill="#222" transform="rotate(-90 57.64 276.90)" style="stroke-width:0.14px">−1.0</text>
<text x="66.74" y="276.90" font-size="4.0" text-anchor="end" fill="#222" transform="rotate(-90 66.74 276.90)" style="stroke-width:0.14px">−0.5</text>
<text x="75.84" y="276.90" font-size="4.0" text-anchor="end" fill="#222" transform="rotate(-90 75.84 276.90)" style="stroke-width:0.14px">0.0</text>
<text x="84.94" y="276.90" font-size="4.0" text-anchor="end" fill="#222" transform="rotate(-90 84.94 276.90)" style="stroke-width:0.14px">0.5</text>
<text x="94.04" y="276.90" font-size="4.0" text-anchor="end" fill="#222" transform="rotate(-90 94.04 276.90)" style="stroke-width:0.14px">1.0</text>
<text x="103.14" y="276.90" font-size="4.0" text-anchor="end" fill="#222" transform="rotate(-90 103.14 276.90)" style="stroke-width:0.14px">1.5</text>
<circle cx="22.00" cy="197.80" r="2.5" fill="#e06080" fill-opacity="0.16"/>
<circle cx="22.00" cy="197.80" r="1.2" fill="#480818" stroke="#a41a36" stroke-width="0.6"/>
<circle cx="22.30" cy="199.30" r="2.5" fill="#e06080" fill-opacity="0.16"/>
<circle cx="22.30" cy="199.30" r="1.2" fill="#480818" stroke="#a41a36" stroke-width="0.6"/>
<circle cx="25.50" cy="203.30" r="2.5" fill="#e06080" fill-opacity="0.16"/>
<circle cx="25.50" cy="203.30" r="1.2" fill="#480818" stroke="#a41a36" stroke-width="0.6"/>
<circle cx="37.90" cy="201.80" r="2.5" fill="#e06080" fill-opacity="0.16"/>
<circle cx="37.90" cy="201.80" r="1.2" fill="#480818" stroke="#a41a36" stroke-width="0.6"/>
<circle cx="37.00" cy="208.90" r="2.5" fill="#e06080" fill-opacity="0.16"/>
<circle cx="37.00" cy="208.90" r="1.2" fill="#480818" stroke="#a41a36" stroke-width="0.6"/>
<circle cx="40.60" cy="211.00" r="2.5" fill="#e06080" fill-opacity="0.16"/>
<circle cx="40.60" cy="211.00" r="1.2" fill="#480818" stroke="#a41a36" stroke-width="0.6"/>
<circle cx="45.00" cy="197.00" r="2.5" fill="#e06080" fill-opacity="0.16"/>
<circle cx="45.00" cy="197.00" r="1.2" fill="#480818" stroke="#a41a36" stroke-width="0.6"/>
<circle cx="48.10" cy="203.60" r="2.5" fill="#e06080" fill-opacity="0.16"/>
<circle cx="48.10" cy="203.60" r="1.2" fill="#480818" stroke="#a41a36" stroke-width="0.6"/>
<circle cx="50.00" cy="218.10" r="2.5" fill="#e06080" fill-opacity="0.16"/>
<circle cx="50.00" cy="218.10" r="1.2" fill="#480818" stroke="#a41a36" stroke-width="0.6"/>
<circle cx="59.80" cy="207.80" r="2.5" fill="#e06080" fill-opacity="0.16"/>
<circle cx="59.80" cy="207.80" r="1.2" fill="#480818" stroke="#a41a36" stroke-width="0.6"/>
<circle cx="80.10" cy="212.40" r="2.5" fill="#e06080" fill-opacity="0.16"/>
<circle cx="80.10" cy="212.40" r="1.2" fill="#480818" stroke="#a41a36" stroke-width="0.6"/>
<circle cx="92.60" cy="232.50" r="2.5" fill="#e06080" fill-opacity="0.16"/>
<circle cx="92.60" cy="232.50" r="1.2" fill="#480818" stroke="#a41a36" stroke-width="0.6"/>
<circle cx="92.60" cy="241.20" r="2.5" fill="#e06080" fill-opacity="0.16"/>
<circle cx="92.60" cy="241.20" r="1.2" fill="#480818" stroke="#a41a36" stroke-width="0.6"/>
<circle cx="92.60" cy="246.20" r="2.5" fill="#e06080" fill-opacity="0.16"/>
<circle cx="92.60" cy="246.20" r="1.2" fill="#480818" stroke="#a41a36" stroke-width="0.6"/>
<circle cx="92.60" cy="258.40" r="2.5" fill="#e06080" fill-opacity="0.16"/>
<circle cx="92.60" cy="258.40" r="1.2" fill="#480818" stroke="#a41a36" stroke-width="0.6"/>
<circle cx="74.20" cy="268.30" r="2.5" fill="#e06080" fill-opacity="0.16"/>
<circle cx="74.20" cy="268.30" r="1.2" fill="#480818" stroke="#a41a36" stroke-width="0.6"/>
<rect x="20.60" y="265.00" width="17.90" height="7.80" fill="#fff" stroke="#333" stroke-width="0.8"/>
<text x="22.00" y="268.50" font-size="3.1" text-anchor="start" fill="#111" style="stroke-width:0.08px"><tspan font-style="italic">r</tspan> = −0.58</text>
<text x="22.00" y="272.00" font-size="3.1" text-anchor="start" fill="#111" style="stroke-width:0.08px"><tspan font-style="italic">P</tspan> = 1.9e-03</text>
<text x="60.80" y="188.80" font-size="5.45" text-anchor="middle" fill="#222" style="stroke-width:0.12px">Trametinib</text>
<text x="62.00" y="292.90" font-size="5.5" text-anchor="middle" fill="#222">Log (GI<tspan font-size="3.3" dy="1.2">50</tspan><tspan dy="-1.2">) (μmol/L)</tspan></text>
<text x="4.70" y="233.00" font-size="5.5" text-anchor="middle" fill="#1a1a1a" transform="rotate(-90 4.70 233.00)" style="stroke-width:0.22px">Signature score</text>
<line x1="121.70" y1="192.25" x2="121.70" y2="274.90" stroke="#d8d8d8" stroke-width="0.6"/>
<line x1="133.30" y1="192.25" x2="133.30" y2="274.90" stroke="#d8d8d8" stroke-width="0.6"/>
<line x1="144.90" y1="192.25" x2="144.90" y2="274.90" stroke="#d8d8d8" stroke-width="0.6"/>
<line x1="156.50" y1="192.25" x2="156.50" y2="274.90" stroke="#d8d8d8" stroke-width="0.6"/>
<line x1="168.10" y1="192.25" x2="168.10" y2="274.90" stroke="#d8d8d8" stroke-width="0.6"/>
<line x1="179.70" y1="192.25" x2="179.70" y2="274.90" stroke="#d8d8d8" stroke-width="0.6"/>
<line x1="191.30" y1="192.25" x2="191.30" y2="274.90" stroke="#d8d8d8" stroke-width="0.6"/>
<line x1="202.90" y1="192.25" x2="202.90" y2="274.90" stroke="#d8d8d8" stroke-width="0.6"/>
<line x1="121.60" y1="192.25" x2="204.00" y2="192.25" stroke="#d8d8d8" stroke-width="0.6"/>
<line x1="121.60" y1="206.03" x2="204.00" y2="206.03" stroke="#d8d8d8" stroke-width="0.6"/>
<line x1="121.60" y1="219.80" x2="204.00" y2="219.80" stroke="#d8d8d8" stroke-width="0.6"/>
<line x1="121.60" y1="233.58" x2="204.00" y2="233.58" stroke="#d8d8d8" stroke-width="0.6"/>
<line x1="121.60" y1="247.35" x2="204.00" y2="247.35" stroke="#d8d8d8" stroke-width="0.6"/>
<line x1="121.60" y1="261.12" x2="204.00" y2="261.12" stroke="#d8d8d8" stroke-width="0.6"/>
<line x1="121.60" y1="274.90" x2="204.00" y2="274.90" stroke="#d8d8d8" stroke-width="0.6"/>
<line x1="121.60" y1="192.25" x2="121.60" y2="275.50" stroke="#7a7a7a" stroke-width="1.3"/>
<line x1="121.00" y1="274.90" x2="204.00" y2="274.90" stroke="#7a7a7a" stroke-width="1.3"/>
<text x="119.70" y="194.55" font-size="4.3" text-anchor="end" fill="#222" style="stroke-width:0.08px">1.0</text>
<text x="119.70" y="208.33" font-size="4.3" text-anchor="end" fill="#222" style="stroke-width:0.08px">0.5</text>
<text x="119.70" y="222.10" font-size="4.3" text-anchor="end" fill="#222" style="stroke-width:0.08px">0.0</text>
<text x="119.70" y="235.88" font-size="4.3" text-anchor="end" fill="#222" style="stroke-width:0.08px">−0.5</text>
<text x="119.70" y="249.65" font-size="4.3" text-anchor="end" fill="#222" style="stroke-width:0.08px">−1.0</text>
<text x="119.70" y="263.43" font-size="4.3" text-anchor="end" fill="#222" style="stroke-width:0.08px">−1.5</text>
<text x="119.70" y="277.20" font-size="4.3" text-anchor="end" fill="#222" style="stroke-width:0.08px">−2.0</text>
<text x="123.14" y="276.90" font-size="4.0" text-anchor="end" fill="#222" transform="rotate(-90 123.14 276.90)" style="stroke-width:0.14px">−2.0</text>
<text x="134.74" y="276.90" font-size="4.0" text-anchor="end" fill="#222" transform="rotate(-90 134.74 276.90)" style="stroke-width:0.14px">−1.5</text>
<text x="146.34" y="276.90" font-size="4.0" text-anchor="end" fill="#222" transform="rotate(-90 146.34 276.90)" style="stroke-width:0.14px">−1.0</text>
<text x="157.94" y="276.90" font-size="4.0" text-anchor="end" fill="#222" transform="rotate(-90 157.94 276.90)" style="stroke-width:0.14px">−0.5</text>
<text x="169.54" y="276.90" font-size="4.0" text-anchor="end" fill="#222" transform="rotate(-90 169.54 276.90)" style="stroke-width:0.14px">0.0</text>
<text x="181.14" y="276.90" font-size="4.0" text-anchor="end" fill="#222" transform="rotate(-90 181.14 276.90)" style="stroke-width:0.14px">0.5</text>
<text x="192.74" y="276.90" font-size="4.0" text-anchor="end" fill="#222" transform="rotate(-90 192.74 276.90)" style="stroke-width:0.14px">1.0</text>
<text x="204.34" y="276.90" font-size="4.0" text-anchor="end" fill="#222" transform="rotate(-90 204.34 276.90)" style="stroke-width:0.14px">1.5</text>
<circle cx="126.60" cy="199.80" r="2.5" fill="#e06080" fill-opacity="0.16"/>
<circle cx="126.60" cy="199.80" r="1.2" fill="#480818" stroke="#a41a36" stroke-width="0.6"/>
<circle cx="133.20" cy="198.20" r="2.5" fill="#e06080" fill-opacity="0.16"/>
<circle cx="133.20" cy="198.20" r="1.2" fill="#480818" stroke="#a41a36" stroke-width="0.6"/>
<circle cx="132.00" cy="204.00" r="2.5" fill="#e06080" fill-opacity="0.16"/>
<circle cx="132.00" cy="204.00" r="1.2" fill="#480818" stroke="#a41a36" stroke-width="0.6"/>
<circle cx="161.80" cy="202.20" r="2.5" fill="#e06080" fill-opacity="0.16"/>
<circle cx="161.80" cy="202.20" r="1.2" fill="#480818" stroke="#a41a36" stroke-width="0.6"/>
<circle cx="164.70" cy="218.60" r="2.5" fill="#e06080" fill-opacity="0.16"/>
<circle cx="164.70" cy="218.60" r="1.2" fill="#480818" stroke="#a41a36" stroke-width="0.6"/>
<circle cx="183.60" cy="197.70" r="2.5" fill="#e06080" fill-opacity="0.16"/>
<circle cx="183.60" cy="197.70" r="1.2" fill="#480818" stroke="#a41a36" stroke-width="0.6"/>
<circle cx="175.90" cy="204.10" r="2.5" fill="#e06080" fill-opacity="0.16"/>
<circle cx="175.90" cy="204.10" r="1.2" fill="#480818" stroke="#a41a36" stroke-width="0.6"/>
<circle cx="173.90" cy="209.30" r="2.5" fill="#e06080" fill-opacity="0.16"/>
<circle cx="173.90" cy="209.30" r="1.2" fill="#480818" stroke="#a41a36" stroke-width="0.6"/>
<circle cx="175.50" cy="213.10" r="2.5" fill="#e06080" fill-opacity="0.16"/>
<circle cx="175.50" cy="213.10" r="1.2" fill="#480818" stroke="#a41a36" stroke-width="0.6"/>
<circle cx="182.40" cy="211.60" r="2.5" fill="#e06080" fill-opacity="0.16"/>
<circle cx="182.40" cy="211.60" r="1.2" fill="#480818" stroke="#a41a36" stroke-width="0.6"/>
<circle cx="191.40" cy="208.30" r="2.5" fill="#e06080" fill-opacity="0.16"/>
<circle cx="191.40" cy="208.30" r="1.2" fill="#480818" stroke="#a41a36" stroke-width="0.6"/>
<circle cx="191.40" cy="233.00" r="2.5" fill="#e06080" fill-opacity="0.16"/>
<circle cx="191.40" cy="233.00" r="1.2" fill="#480818" stroke="#a41a36" stroke-width="0.6"/>
<circle cx="191.40" cy="241.80" r="2.5" fill="#e06080" fill-opacity="0.16"/>
<circle cx="191.40" cy="241.80" r="1.2" fill="#480818" stroke="#a41a36" stroke-width="0.6"/>
<circle cx="191.40" cy="246.70" r="2.5" fill="#e06080" fill-opacity="0.16"/>
<circle cx="191.40" cy="246.70" r="1.2" fill="#480818" stroke="#a41a36" stroke-width="0.6"/>
<circle cx="191.40" cy="258.80" r="2.5" fill="#e06080" fill-opacity="0.16"/>
<circle cx="191.40" cy="258.80" r="1.2" fill="#480818" stroke="#a41a36" stroke-width="0.6"/>
<circle cx="191.40" cy="268.90" r="2.5" fill="#e06080" fill-opacity="0.16"/>
<circle cx="191.40" cy="268.90" r="1.2" fill="#480818" stroke="#a41a36" stroke-width="0.6"/>
<rect x="123.00" y="265.30" width="16.80" height="8.00" fill="#fff" stroke="#333" stroke-width="0.8"/>
<text x="124.40" y="268.80" font-size="3.1" text-anchor="start" fill="#111" style="stroke-width:0.08px"><tspan font-style="italic">r</tspan> = −0.58</text>
<text x="124.40" y="272.30" font-size="3.1" text-anchor="start" fill="#111" style="stroke-width:0.08px"><tspan font-style="italic">P</tspan> = 1.9e-03</text>
<text x="162.80" y="188.80" font-size="5.45" text-anchor="middle" fill="#222" style="stroke-width:0.12px">Binimetinib</text>
<text x="162.40" y="292.90" font-size="5.5" text-anchor="middle" fill="#222">Log (GI<tspan font-size="3.3" dy="1.2">50</tspan><tspan dy="-1.2">) (μmol/L)</tspan></text>
<text x="107.30" y="233.00" font-size="5.5" text-anchor="middle" fill="#1a1a1a" transform="rotate(-90 107.30 233.00)" style="stroke-width:0.22px">Signature score</text>
<line x1="223.40" y1="192.25" x2="223.40" y2="274.90" stroke="#d8d8d8" stroke-width="0.6"/>
<line x1="236.87" y1="192.25" x2="236.87" y2="274.90" stroke="#d8d8d8" stroke-width="0.6"/>
<line x1="250.33" y1="192.25" x2="250.33" y2="274.90" stroke="#d8d8d8" stroke-width="0.6"/>
<line x1="263.80" y1="192.25" x2="263.80" y2="274.90" stroke="#d8d8d8" stroke-width="0.6"/>
<line x1="277.26" y1="192.25" x2="277.26" y2="274.90" stroke="#d8d8d8" stroke-width="0.6"/>
<line x1="290.73" y1="192.25" x2="290.73" y2="274.90" stroke="#d8d8d8" stroke-width="0.6"/>
<line x1="304.19" y1="192.25" x2="304.19" y2="274.90" stroke="#d8d8d8" stroke-width="0.6"/>
<line x1="222.90" y1="192.25" x2="305.20" y2="192.25" stroke="#d8d8d8" stroke-width="0.6"/>
<line x1="222.90" y1="206.03" x2="305.20" y2="206.03" stroke="#d8d8d8" stroke-width="0.6"/>
<line x1="222.90" y1="219.80" x2="305.20" y2="219.80" stroke="#d8d8d8" stroke-width="0.6"/>
<line x1="222.90" y1="233.58" x2="305.20" y2="233.58" stroke="#d8d8d8" stroke-width="0.6"/>
<line x1="222.90" y1="247.35" x2="305.20" y2="247.35" stroke="#d8d8d8" stroke-width="0.6"/>
<line x1="222.90" y1="261.12" x2="305.20" y2="261.12" stroke="#d8d8d8" stroke-width="0.6"/>
<line x1="222.90" y1="274.90" x2="305.20" y2="274.90" stroke="#d8d8d8" stroke-width="0.6"/>
<line x1="222.90" y1="192.25" x2="222.90" y2="275.50" stroke="#7a7a7a" stroke-width="1.3"/>
<line x1="222.30" y1="274.90" x2="305.20" y2="274.90" stroke="#7a7a7a" stroke-width="1.3"/>
<text x="221.00" y="194.55" font-size="4.3" text-anchor="end" fill="#222" style="stroke-width:0.08px">1.0</text>
<text x="221.00" y="208.33" font-size="4.3" text-anchor="end" fill="#222" style="stroke-width:0.08px">0.5</text>
<text x="221.00" y="222.10" font-size="4.3" text-anchor="end" fill="#222" style="stroke-width:0.08px">0.0</text>
<text x="221.00" y="235.88" font-size="4.3" text-anchor="end" fill="#222" style="stroke-width:0.08px">−0.5</text>
<text x="221.00" y="249.65" font-size="4.3" text-anchor="end" fill="#222" style="stroke-width:0.08px">−1.0</text>
<text x="221.00" y="263.43" font-size="4.3" text-anchor="end" fill="#222" style="stroke-width:0.08px">−1.5</text>
<text x="221.00" y="277.20" font-size="4.3" text-anchor="end" fill="#222" style="stroke-width:0.08px">−2.0</text>
<text x="224.84" y="276.90" font-size="4.0" text-anchor="end" fill="#222" transform="rotate(-90 224.84 276.90)" style="stroke-width:0.14px">−2.0</text>
<text x="238.31" y="276.90" font-size="4.0" text-anchor="end" fill="#222" transform="rotate(-90 238.31 276.90)" style="stroke-width:0.14px">−1.5</text>
<text x="251.77" y="276.90" font-size="4.0" text-anchor="end" fill="#222" transform="rotate(-90 251.77 276.90)" style="stroke-width:0.14px">−1.0</text>
<text x="265.24" y="276.90" font-size="4.0" text-anchor="end" fill="#222" transform="rotate(-90 265.24 276.90)" style="stroke-width:0.14px">−0.5</text>
<text x="278.70" y="276.90" font-size="4.0" text-anchor="end" fill="#222" transform="rotate(-90 278.70 276.90)" style="stroke-width:0.14px">0.0</text>
<text x="292.17" y="276.90" font-size="4.0" text-anchor="end" fill="#222" transform="rotate(-90 292.17 276.90)" style="stroke-width:0.14px">0.5</text>
<text x="305.63" y="276.90" font-size="4.0" text-anchor="end" fill="#222" transform="rotate(-90 305.63 276.90)" style="stroke-width:0.14px">1.0</text>
<circle cx="228.80" cy="197.90" r="2.5" fill="#e06080" fill-opacity="0.16"/>
<circle cx="228.80" cy="197.90" r="1.2" fill="#480818" stroke="#a41a36" stroke-width="0.6"/>
<circle cx="227.60" cy="203.60" r="2.5" fill="#e06080" fill-opacity="0.16"/>
<circle cx="227.60" cy="203.60" r="1.2" fill="#480818" stroke="#a41a36" stroke-width="0.6"/>
<circle cx="234.60" cy="199.20" r="2.5" fill="#e06080" fill-opacity="0.16"/>
<circle cx="234.60" cy="199.20" r="1.2" fill="#480818" stroke="#a41a36" stroke-width="0.6"/>
<circle cx="264.90" cy="197.40" r="2.5" fill="#e06080" fill-opacity="0.16"/>
<circle cx="264.90" cy="197.40" r="1.2" fill="#480818" stroke="#a41a36" stroke-width="0.6"/>
<circle cx="270.40" cy="202.00" r="2.5" fill="#e06080" fill-opacity="0.16"/>
<circle cx="270.40" cy="202.00" r="1.2" fill="#480818" stroke="#a41a36" stroke-width="0.6"/>
<circle cx="270.30" cy="209.20" r="2.5" fill="#e06080" fill-opacity="0.16"/>
<circle cx="270.30" cy="209.20" r="1.2" fill="#480818" stroke="#a41a36" stroke-width="0.6"/>
<circle cx="273.20" cy="208.00" r="2.5" fill="#e06080" fill-opacity="0.16"/>
<circle cx="273.20" cy="208.00" r="1.2" fill="#480818" stroke="#a41a36" stroke-width="0.6"/>
<circle cx="277.10" cy="203.80" r="2.5" fill="#e06080" fill-opacity="0.16"/>
<circle cx="277.10" cy="203.80" r="1.2" fill="#480818" stroke="#a41a36" stroke-width="0.6"/>
<circle cx="280.00" cy="211.10" r="2.5" fill="#e06080" fill-opacity="0.16"/>
<circle cx="280.00" cy="211.10" r="1.2" fill="#480818" stroke="#a41a36" stroke-width="0.6"/>
<circle cx="252.80" cy="218.40" r="2.5" fill="#e06080" fill-opacity="0.16"/>
<circle cx="252.80" cy="218.40" r="1.2" fill="#480818" stroke="#a41a36" stroke-width="0.6"/>
<circle cx="271.20" cy="232.70" r="2.5" fill="#e06080" fill-opacity="0.16"/>
<circle cx="271.20" cy="232.70" r="1.2" fill="#480818" stroke="#a41a36" stroke-width="0.6"/>
<circle cx="290.20" cy="233.20" r="2.5" fill="#e06080" fill-opacity="0.16"/>
<circle cx="290.20" cy="233.20" r="1.2" fill="#480818" stroke="#a41a36" stroke-width="0.6"/>
<circle cx="276.10" cy="241.80" r="2.5" fill="#e06080" fill-opacity="0.16"/>
<circle cx="276.10" cy="241.80" r="1.2" fill="#480818" stroke="#a41a36" stroke-width="0.6"/>
<circle cx="293.10" cy="246.70" r="2.5" fill="#e06080" fill-opacity="0.16"/>
<circle cx="293.10" cy="246.70" r="1.2" fill="#480818" stroke="#a41a36" stroke-width="0.6"/>
<circle cx="279.10" cy="258.80" r="2.5" fill="#e06080" fill-opacity="0.16"/>
<circle cx="279.10" cy="258.80" r="1.2" fill="#480818" stroke="#a41a36" stroke-width="0.6"/>
<circle cx="289.60" cy="268.60" r="2.5" fill="#e06080" fill-opacity="0.16"/>
<circle cx="289.60" cy="268.60" r="1.2" fill="#480818" stroke="#a41a36" stroke-width="0.6"/>
<rect x="224.80" y="265.80" width="17.00" height="8.20" fill="#fff" stroke="#333" stroke-width="0.8"/>
<text x="226.20" y="269.30" font-size="3.1" text-anchor="start" fill="#111" style="stroke-width:0.08px"><tspan font-style="italic">r</tspan> = −0.58</text>
<text x="226.20" y="272.80" font-size="3.1" text-anchor="start" fill="#111" style="stroke-width:0.08px"><tspan font-style="italic">P</tspan> = 1.9e-03</text>
<text x="264.05" y="188.80" font-size="5.45" text-anchor="middle" fill="#222" style="stroke-width:0.12px">Cobimetinib</text>
<text x="266.50" y="292.90" font-size="5.5" text-anchor="middle" fill="#222">Log (GI<tspan font-size="3.3" dy="1.2">50</tspan><tspan dy="-1.2">) (μmol/L)</tspan></text>
<text x="208.80" y="233.00" font-size="5.5" text-anchor="middle" fill="#1a1a1a" transform="rotate(-90 208.80 233.00)" style="stroke-width:0.22px">Signature score</text>
<line x1="340.60" y1="180.50" x2="411.80" y2="180.50" stroke="#e4e4e4" stroke-width="0.6"/>
<line x1="340.60" y1="190.40" x2="411.80" y2="190.40" stroke="#e4e4e4" stroke-width="0.6"/>
<line x1="340.60" y1="200.30" x2="411.80" y2="200.30" stroke="#e4e4e4" stroke-width="0.6"/>
<line x1="340.60" y1="210.20" x2="411.80" y2="210.20" stroke="#e4e4e4" stroke-width="0.6"/>
<line x1="340.60" y1="220.10" x2="411.80" y2="220.10" stroke="#e4e4e4" stroke-width="0.6"/>
<line x1="340.60" y1="230.00" x2="411.80" y2="230.00" stroke="#e4e4e4" stroke-width="0.6"/>
<line x1="340.60" y1="239.90" x2="411.80" y2="239.90" stroke="#e4e4e4" stroke-width="0.6"/>
<line x1="340.60" y1="249.80" x2="411.80" y2="249.80" stroke="#e4e4e4" stroke-width="0.6"/>
<line x1="340.60" y1="259.70" x2="411.80" y2="259.70" stroke="#e4e4e4" stroke-width="0.6"/>
<line x1="340.60" y1="269.60" x2="411.80" y2="269.60" stroke="#e4e4e4" stroke-width="0.6"/>
<line x1="340.60" y1="279.50" x2="411.80" y2="279.50" stroke="#e4e4e4" stroke-width="0.6"/>
<line x1="340.60" y1="220.10" x2="413.80" y2="220.10" stroke="#000" stroke-width="1.0"/>
<line x1="340.60" y1="180.50" x2="340.60" y2="280.00" stroke="#7a7a7a" stroke-width="1.2"/>
<line x1="340.10" y1="279.50" x2="411.80" y2="279.50" stroke="#444" stroke-width="1.3"/>
<text x="337.40" y="182.20" font-size="4.5" text-anchor="end" fill="#222" style="stroke-width:0.08px">0.8</text>
<text x="337.40" y="192.10" font-size="4.5" text-anchor="end" fill="#222" style="stroke-width:0.08px">0.6</text>
<text x="337.40" y="202.00" font-size="4.5" text-anchor="end" fill="#222" style="stroke-width:0.08px">0.4</text>
<text x="337.40" y="211.90" font-size="4.5" text-anchor="end" fill="#222" style="stroke-width:0.08px">0.2</text>
<text x="337.40" y="221.80" font-size="4.5" text-anchor="end" fill="#222" style="stroke-width:0.08px">0.0</text>
<text x="337.40" y="231.70" font-size="4.5" text-anchor="end" fill="#222" style="stroke-width:0.08px">−0.2</text>
<text x="337.40" y="241.60" font-size="4.5" text-anchor="end" fill="#222" style="stroke-width:0.08px">−0.4</text>
<text x="337.40" y="251.50" font-size="4.5" text-anchor="end" fill="#222" style="stroke-width:0.08px">−0.6</text>
<text x="337.40" y="261.40" font-size="4.5" text-anchor="end" fill="#222" style="stroke-width:0.08px">−0.8</text>
<text x="337.40" y="271.30" font-size="4.5" text-anchor="end" fill="#222" style="stroke-width:0.08px">−1.0</text>
<text x="337.40" y="281.20" font-size="4.5" text-anchor="end" fill="#222" style="stroke-width:0.08px">−1.2</text>
<line x1="359.60" y1="188.30" x2="359.60" y2="192.30" stroke="#6e1020" stroke-width="0.9"/>
<line x1="355.60" y1="188.30" x2="363.60" y2="188.30" stroke="#6e1020" stroke-width="0.9"/>
<line x1="359.60" y1="204.40" x2="359.60" y2="206.70" stroke="#6e1020" stroke-width="0.9"/>
<rect x="348.10" y="192.30" width="21.50" height="12.10" fill="#ef8494" stroke="#6e1020" stroke-width="1.0"/>
<line x1="348.10" y1="203.30" x2="369.60" y2="203.30" stroke="#6e1020" stroke-width="1.0"/>
<circle cx="361.20" cy="188.30" r="2.2" fill="none" stroke="#111" stroke-width="0.9"/>
<circle cx="361.20" cy="190.40" r="2.2" fill="none" stroke="#111" stroke-width="0.9"/>
<circle cx="361.20" cy="202.10" r="2.2" fill="none" stroke="#111" stroke-width="0.9"/>
<circle cx="356.50" cy="203.90" r="2.2" fill="none" stroke="#111" stroke-width="0.9"/>
<circle cx="361.20" cy="206.70" r="2.2" fill="none" stroke="#111" stroke-width="0.9"/>
<line x1="394.20" y1="210.30" x2="394.20" y2="221.80" stroke="#11602e" stroke-width="0.9"/>
<line x1="391.50" y1="210.30" x2="396.90" y2="210.30" stroke="#11602e" stroke-width="0.9"/>
<line x1="394.20" y1="268.00" x2="394.20" y2="276.00" stroke="#11602e" stroke-width="0.9"/>
<line x1="392.50" y1="276.00" x2="395.90" y2="276.00" stroke="#11602e" stroke-width="0.9"/>
<rect x="383.40" y="221.80" width="21.80" height="46.20" fill="#8ee0ae" stroke="#11602e" stroke-width="1.0"/>
<line x1="383.40" y1="233.80" x2="405.20" y2="233.80" stroke="#11602e" stroke-width="1.0"/>
<circle cx="394.20" cy="210.30" r="2.2" fill="none" stroke="#111" stroke-width="0.9"/>
<circle cx="394.20" cy="221.80" r="2.2" fill="none" stroke="#111" stroke-width="0.9"/>
<circle cx="394.20" cy="233.80" r="2.2" fill="none" stroke="#111" stroke-width="0.9"/>
<circle cx="394.20" cy="267.60" r="2.2" fill="none" stroke="#111" stroke-width="0.9"/>
<circle cx="394.20" cy="274.60" r="2.2" fill="none" stroke="#111" stroke-width="0.9"/>
<text x="381.80" y="173.10" font-size="6.5" text-anchor="middle" fill="#3a3a3a" style="stroke:#3a3a3a;stroke-width:0.05px">Berry et al.</text>
<rect x="385.40" y="181.50" width="26.60" height="8.90" fill="#fff" stroke="#333" stroke-width="0.8"/>
<text x="388.00" y="187.80" font-size="5.0" text-anchor="start" fill="#111"><tspan font-style="italic">P</tspan> = 0.01</text>
<text x="323.30" y="231.00" font-size="5.6" text-anchor="middle" fill="#222" transform="rotate(-90 323.30 231.00)">Signature score</text>
<text x="357.20" y="282.80" font-size="4.85" text-anchor="start" fill="#2a2a2a" transform="rotate(90 357.20 282.80)" style="stroke:#2a2a2a;stroke-width:0.1px">MYCN + ALK (5)</text>
<text x="392.30" y="282.80" font-size="4.85" text-anchor="start" fill="#2a2a2a" transform="rotate(90 392.30 282.80)" style="stroke:#2a2a2a;stroke-width:0.1px">MYCN (5)</text>
<line x1="358.90" y1="279.70" x2="358.90" y2="281.00" stroke="#555" stroke-width="0.6"/>
<line x1="394.00" y1="279.70" x2="394.00" y2="281.00" stroke="#555" stroke-width="0.6"/>
<line x1="441.90" y1="178.20" x2="514.50" y2="178.20" stroke="#e4e4e4" stroke-width="0.6"/>
<line x1="441.90" y1="194.87" x2="514.50" y2="194.87" stroke="#e4e4e4" stroke-width="0.6"/>
<line x1="441.90" y1="211.53" x2="514.50" y2="211.53" stroke="#e4e4e4" stroke-width="0.6"/>
<line x1="441.90" y1="228.20" x2="514.50" y2="228.20" stroke="#e4e4e4" stroke-width="0.6"/>
<line x1="441.90" y1="244.86" x2="514.50" y2="244.86" stroke="#e4e4e4" stroke-width="0.6"/>
<line x1="441.90" y1="261.53" x2="514.50" y2="261.53" stroke="#e4e4e4" stroke-width="0.6"/>
<line x1="441.90" y1="278.19" x2="514.50" y2="278.19" stroke="#e4e4e4" stroke-width="0.6"/>
<line x1="441.90" y1="228.20" x2="516.50" y2="228.20" stroke="#000" stroke-width="1.0"/>
<line x1="441.90" y1="178.20" x2="441.90" y2="278.69" stroke="#7a7a7a" stroke-width="1.2"/>
<line x1="441.40" y1="278.19" x2="514.50" y2="278.19" stroke="#444" stroke-width="1.3"/>
<text x="439.60" y="180.30" font-size="4.7" text-anchor="end" fill="#222" style="stroke-width:0.08px">1.5</text>
<text x="439.60" y="196.97" font-size="4.7" text-anchor="end" fill="#222" style="stroke-width:0.08px">1.0</text>
<text x="439.60" y="213.63" font-size="4.7" text-anchor="end" fill="#222" style="stroke-width:0.08px">0.5</text>
<text x="439.60" y="230.30" font-size="4.7" text-anchor="end" fill="#222" style="stroke-width:0.08px">0.0</text>
<text x="439.60" y="246.96" font-size="4.7" text-anchor="end" fill="#222" style="stroke-width:0.08px">−0.5</text>
<text x="439.60" y="263.63" font-size="4.7" text-anchor="end" fill="#222" style="stroke-width:0.08px">−1.0</text>
<text x="439.60" y="280.30" font-size="4.7" text-anchor="end" fill="#222" style="stroke-width:0.08px">−1.5</text>
<line x1="460.20" y1="192.00" x2="460.20" y2="206.20" stroke="#6e1020" stroke-width="0.9"/>
<line x1="458.00" y1="192.00" x2="462.40" y2="192.00" stroke="#6e1020" stroke-width="0.9"/>
<ellipse cx="460.2" cy="192.2" rx="1.9" ry="1.3" fill="#9a2030"/>
<line x1="460.20" y1="228.10" x2="460.20" y2="254.20" stroke="#6e1020" stroke-width="0.9"/>
<line x1="458.00" y1="254.20" x2="462.40" y2="254.20" stroke="#6e1020" stroke-width="0.9"/>
<rect x="449.00" y="206.20" width="23.60" height="21.90" fill="#ef8494" stroke="#6e1020" stroke-width="1.0"/>
<line x1="449.00" y1="218.00" x2="472.60" y2="218.00" stroke="#6e1020" stroke-width="1.0"/>
<circle cx="460.20" cy="192.00" r="2.2" fill="none" stroke="#111" stroke-width="0.9"/>
<circle cx="460.20" cy="194.30" r="2.2" fill="none" stroke="#111" stroke-width="0.9"/>
<circle cx="466.40" cy="196.60" r="2.2" fill="none" stroke="#111" stroke-width="0.9"/>
<circle cx="460.20" cy="199.00" r="2.2" fill="none" stroke="#111" stroke-width="0.9"/>
<circle cx="461.70" cy="201.30" r="2.2" fill="none" stroke="#111" stroke-width="0.9"/>
<circle cx="455.50" cy="204.40" r="2.2" fill="none" stroke="#111" stroke-width="0.9"/>
<circle cx="460.20" cy="205.20" r="2.2" fill="none" stroke="#111" stroke-width="0.9"/>
<circle cx="460.20" cy="209.50" r="2.2" fill="none" stroke="#111" stroke-width="0.9"/>
<circle cx="465.60" cy="209.50" r="2.2" fill="none" stroke="#111" stroke-width="0.9"/>
<circle cx="465.60" cy="212.10" r="2.2" fill="none" stroke="#111" stroke-width="0.9"/>
<circle cx="460.20" cy="216.80" r="2.2" fill="none" stroke="#111" stroke-width="0.9"/>
<circle cx="465.60" cy="217.90" r="2.2" fill="none" stroke="#111" stroke-width="0.9"/>
<circle cx="451.60" cy="221.00" r="2.2" fill="none" stroke="#111" stroke-width="0.9"/>
<circle cx="468.70" cy="221.40" r="2.2" fill="none" stroke="#111" stroke-width="0.9"/>
<circle cx="460.20" cy="226.10" r="2.2" fill="none" stroke="#111" stroke-width="0.9"/>
<circle cx="465.60" cy="227.20" r="2.2" fill="none" stroke="#111" stroke-width="0.9"/>
<circle cx="466.10" cy="229.70" r="2.2" fill="none" stroke="#111" stroke-width="0.9"/>
<circle cx="460.20" cy="233.40" r="2.2" fill="none" stroke="#111" stroke-width="0.9"/>
<circle cx="460.20" cy="239.90" r="2.2" fill="none" stroke="#111" stroke-width="0.9"/>
<circle cx="460.20" cy="247.30" r="2.2" fill="none" stroke="#111" stroke-width="0.9"/>
<circle cx="460.20" cy="253.50" r="2.2" fill="none" stroke="#111" stroke-width="0.9"/>
<line x1="498.30" y1="226.90" x2="498.30" y2="241.10" stroke="#11602e" stroke-width="1.0"/>
<line x1="495.50" y1="226.90" x2="501.70" y2="226.90" stroke="#11602e" stroke-width="1.0"/>
<line x1="498.30" y1="255.40" x2="498.30" y2="261.00" stroke="#11602e" stroke-width="0.9"/>
<rect x="486.80" y="241.10" width="21.10" height="14.30" fill="#8ee0ae" stroke="#11602e" stroke-width="1.0"/>
<line x1="486.80" y1="248.00" x2="507.90" y2="248.00" stroke="#11602e" stroke-width="1.0"/>
<circle cx="498.30" cy="234.30" r="2.2" fill="none" stroke="#111" stroke-width="0.9"/>
<circle cx="492.70" cy="235.60" r="2.2" fill="none" stroke="#111" stroke-width="0.9"/>
<circle cx="498.30" cy="240.50" r="2.2" fill="none" stroke="#111" stroke-width="0.9"/>
<circle cx="498.30" cy="243.60" r="2.2" fill="none" stroke="#111" stroke-width="0.9"/>
<circle cx="502.90" cy="244.30" r="2.2" fill="none" stroke="#111" stroke-width="0.9"/>
<circle cx="492.70" cy="247.40" r="2.2" fill="none" stroke="#111" stroke-width="0.9"/>
<circle cx="498.30" cy="253.60" r="2.2" fill="none" stroke="#111" stroke-width="0.9"/>
<circle cx="492.70" cy="254.80" r="2.2" fill="none" stroke="#111" stroke-width="0.9"/>
<circle cx="498.30" cy="258.30" r="2.2" fill="none" stroke="#111" stroke-width="0.9"/>
<circle cx="492.70" cy="261.00" r="2.2" fill="none" stroke="#111" stroke-width="0.9"/>
<circle cx="497.9" cy="271.4" r="0.4" fill="#999"/>
<text x="475.60" y="173.10" font-size="6.5" text-anchor="middle" fill="#3a3a3a" style="stroke:#3a3a3a;stroke-width:0.05px">Cazes et al.</text>
<rect x="487.00" y="179.50" width="30.60" height="8.50" fill="#fff" stroke="#333" stroke-width="0.8"/>
<text x="488.40" y="185.50" font-size="5.1" text-anchor="start" fill="#111"><tspan font-style="italic">P</tspan> = 2.4e-05</text>
<text x="425.40" y="226.20" font-size="5.6" text-anchor="middle" fill="#222" transform="rotate(-90 425.40 226.20)">Signature score</text>
<text x="459.00" y="282.20" font-size="4.85" text-anchor="start" fill="#2a2a2a" transform="rotate(90 459.00 282.20)" style="stroke:#2a2a2a;stroke-width:0.1px">MYCN + ALK (21)</text>
<text x="496.20" y="282.20" font-size="4.85" text-anchor="start" fill="#2a2a2a" transform="rotate(90 496.20 282.20)" style="stroke:#2a2a2a;stroke-width:0.1px">MYCN (10)</text>
<line x1="460.70" y1="278.20" x2="460.70" y2="279.50" stroke="#555" stroke-width="0.6"/>
<line x1="497.90" y1="278.20" x2="497.90" y2="279.50" stroke="#555" stroke-width="0.6"/>
</svg>
</body></html>
